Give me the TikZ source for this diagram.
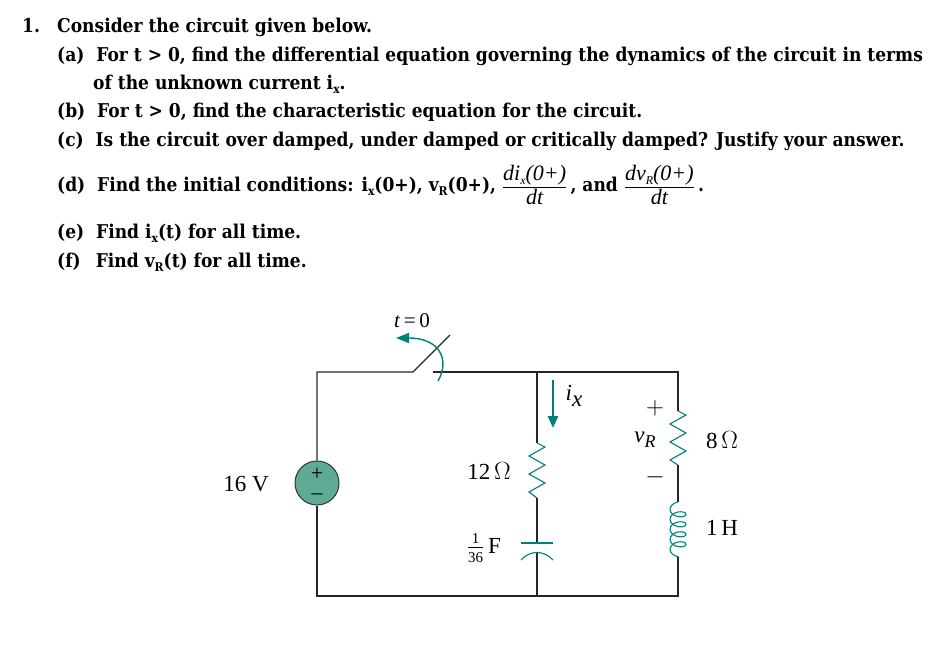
\documentclass[tikz,border=0pt]{standalone}
\usepackage{fontspec}
\setmainfont{DejaVu Serif}[FakeStretch=0.9]
\newfontfamily\cfont{Liberation Serif}
\usetikzlibrary{decorations.pathmorphing,arrows.meta}
\definecolor{teal1}{RGB}{0,128,118}
\definecolor{tealfill}{RGB}{95,170,150}
\newcommand{\sbx}[1]{\raisebox{-0.35ex}{\fontsize{12}{12}\selectfont #1}}
\newcommand{\ifrac}[2]{$\displaystyle\frac{\hbox{\cfont\mdseries\itshape\fontsize{22}{22}\selectfont #1}}{\hbox{\cfont\mdseries\itshape\fontsize{22}{22}\selectfont #2}}$}
\begin{document}
\begin{tikzpicture}[x=1pt,y=-1pt,
  txt/.style={anchor=base west,inner sep=0pt,font=\fontsize{19}{20}\selectfont\bfseries},
  ctxt/.style={inner sep=0pt,font=\cfont\fontsize{23}{24}\selectfont},
  wire/.style={line width=1.1pt,black!85},
  comp/.style={line width=1.1pt,teal1}]
\useasboundingbox (0,0) rectangle (948,660);
\node[txt] (n1) at (22,33) {1.};
\node[txt] (l1) at (57,33) {Consider the circuit given below.};
\node[txt] (la) at (57,62) {(a)\ \ For t > 0, find the differential equation governing the dynamics of the circuit in terms};
\node[txt] (la2) at (93,90) {of the unknown current i\sbx{x}.};
\node[txt] (lb) at (57,118) {(b)\ \ For t > 0, find the characteristic equation for the circuit.};
\node[txt] (lc) at (57,147) {(c)\ \ Is the circuit over damped, under damped or critically damped? Justify your answer.};
\node[txt] (ld) at (57,192) {(d)\ \ Find the initial conditions: i\sbx{x}(0+), v\sbx{R}(0+), \ifrac{di\raisebox{-0.4ex}{\fontsize{12}{12}\selectfont x}(0+)}{dt}\,, and \ifrac{dv\raisebox{-0.4ex}{\fontsize{12}{12}\selectfont R}(0+)}{dt}\,.};
\node[txt] (le) at (57,239) {(e)\ \ Find i\sbx{x}(t) for all time.};
\node[txt] (lf) at (57,268) {(f)\ \ \,Find v\sbx{R}(t) for all time.};
% circuit
\coordinate (tl) at (317,372); \coordinate (s1) at (413,372); \coordinate (s2) at (433,372);
\coordinate (tm) at (537,372); \coordinate (tr) at (678,372);
\coordinate (bl) at (317,596); \coordinate (bm) at (537,596); \coordinate (br) at (678,596);
\node[circle,draw=black!80,fill=tealfill,line width=1pt,minimum size=44pt,inner sep=0pt] (src) at (317,483) {};
\node[inner sep=0pt,align=center,font=\cfont\fontsize{22}{19}\selectfont] (pm) at (317,484) {+\\–};
\draw[wire] (src.north) -- (tl) -- (s1) -- ++(37,-37);
\draw[wire] (s2) -- (tm) -- (tr) -- (678,411);
\draw[wire] (src.south) -- (bl) -- (br) -- (678,557);
\draw[comp,line width=1.4pt,-{Triangle[length=13pt,width=10pt]}] (438,381) .. controls (450,360) and (440,338) .. (396,338);
\node[ctxt,font=\cfont\fontsize{21}{22}\selectfont] (t0) at (412,321) {\textit{t}\,=\,0};
% middle branch
\draw[wire] (tm) -- (537,443);
\draw[comp] (537,443) -- (545,447) -- (529,456) -- (545,465) -- (529,474) -- (545,483) -- (529,492) -- (537,498);
\draw[wire] (537,498) -- (537,543);
\draw[comp] (521,543) -- (553,543);
\draw[comp] (521,560) .. controls (530,550) and (544,550) .. (553,560);
\draw[wire] (537,553) -- (bm);
\draw[comp,line width=2.4pt,-{Triangle[length=12pt,width=10pt]}] (553,380) -- (553,428);
\node[ctxt] (ix) at (574,396) {\textit{i\raisebox{-0.5ex}{x}}};
\node[ctxt] (r12) at (489,471) {12\,$\Omega$};
\node[ctxt] (cf) at (484,548) {$\frac{\hbox{\cfont\fontsize{15}{15}\selectfont 1}}{\hbox{\cfont\fontsize{15}{15}\selectfont 36}}$\,F};
% right branch
\draw[comp] (678,411) -- (686,415) -- (670,424) -- (686,433) -- (670,442) -- (686,451) -- (670,460) -- (678,465);
\draw[wire] (678,465) -- (678,502);
\draw[comp,decorate,decoration={coil,aspect=0.6,segment length=10pt,amplitude=8pt,mirror}] (678,502) -- (678,557);
\node[ctxt] (vp) at (655,408) {$+$};
\node[ctxt] (vr) at (645,440) {\textit{v\raisebox{-0.5ex}{\fontsize{18}{18}\selectfont R}}};
\node[ctxt] (vm) at (655,477) {$-$};
\node[ctxt] (r8) at (722,440) {8\,$\Omega$};
\node[ctxt] (l1h) at (722,528) {1\,H};
\node[ctxt] (v16) at (246,484) {16 V};
\end{tikzpicture}
\end{document}
